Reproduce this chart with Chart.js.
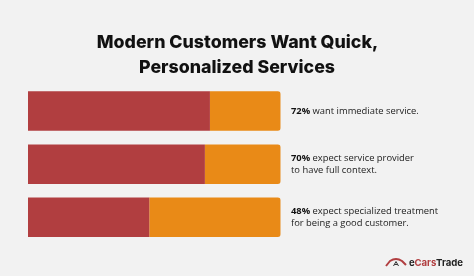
<!DOCTYPE html>
<html>
<head>
<meta charset="utf-8">
<script src="https://cdn.jsdelivr.net/npm/chart.js@4"></script>
<style>
  html,body{margin:0;padding:0;background:#f2f2f2;}
  #wrap{position:relative;width:474px;height:276px;}
  canvas{display:block;}
</style>
</head>
<body>
<div id="wrap"><canvas id="c" width="474" height="276"></canvas></div>
<script>
const titleLines = ["Modern Customers Want Quick,", "Personalized Services"];
const categories = ["want immediate service", "expect full context", "expect specialized treatment"];
const agreeValues = [72, 70, 48];
const restValues = [28, 30, 52];
const labelBold = ["72%", "70%", "48%"];
const labelLines = [
  [" want immediate service."],
  [" expect service provider", "to have full context."],
  [" expect specialized treatment", "for being a good customer."]
];
const brandParts = ["e", "Cars", "Trade"];

const RED = "#b13e40";
const ORANGE = "#e98a17";

const overlay = {
  id: "overlay",
  afterDraw(chart) {
    const ctx = chart.ctx;
    const y = chart.scales.y;
    ctx.save();
    // title
    ctx.fillStyle = "#111";
    ctx.textAlign = "center";
    ctx.textBaseline = "middle";
    ctx.font = "800 17.8px Inter";
    ctx.fillText(titleLines[0], 237.5, 43);
    ctx.fillText(titleLines[1], 237, 68);
    // right labels
    ctx.textAlign = "left";
    const x0 = 291;
    const lh = 11.7;
    categories.forEach((c, i) => {
      const cy = y.getPixelForValue(i);
      const lines = labelLines[i];
      const top = cy - (lines.length - 1) * lh / 2;
      ctx.font = "bold 9.4px 'Open Sans'";
      ctx.fillStyle = "#111";
      ctx.fillText(labelBold[i], x0, top);
      const w = ctx.measureText(labelBold[i]).width;
      ctx.font = "9.4px 'Open Sans'";
      ctx.fillStyle = "#222";
      ctx.fillText(lines[0], x0 + w, top);
      for (let k = 1; k < lines.length; k++) {
        ctx.fillText(lines[k], x0, top + k * lh);
      }
    });
    // logo
    ctx.strokeStyle = RED;
    ctx.lineWidth = 2;
    ctx.lineJoin = "round";
    ctx.beginPath();
    ctx.moveTo(386, 266);
    ctx.lineTo(390, 261);
    ctx.quadraticCurveTo(396, 257, 402, 261);
    ctx.lineTo(406, 265);
    ctx.stroke();
    ctx.lineWidth = 1;
    ctx.strokeStyle = "#333";
    ctx.beginPath();
    ctx.moveTo(393.5, 266);
    ctx.lineTo(396, 261.5);
    ctx.lineTo(398.5, 266);
    ctx.moveTo(394.5, 264.5);
    ctx.lineTo(397.5, 264.5);
    ctx.stroke();
    ctx.font = "bold 9.6px Inter";
    ctx.textBaseline = "middle";
    let bx = 409;
    const cols = ["#222", RED, "#222"];
    brandParts.forEach((p, k) => {
      ctx.fillStyle = cols[k];
      ctx.fillText(p, bx, 263);
      bx += ctx.measureText(p).width - 0.3;
    });
    ctx.restore();
  }
};

new Chart(document.getElementById("c"), {
  type: "bar",
  data: {
    labels: categories,
    datasets: [
      { data: agreeValues, backgroundColor: RED, borderWidth: 0, borderRadius: 0, borderSkipped: false,
        categoryPercentage: 1, barPercentage: 0.744 },
      { data: restValues, backgroundColor: ORANGE, borderWidth: 0,
        borderRadius: { topLeft: 0, bottomLeft: 0, topRight: 3, bottomRight: 3 }, borderSkipped: false,
        categoryPercentage: 1, barPercentage: 0.744 }
    ]
  },
  options: {
    indexAxis: "y",
    responsive: false,
    animation: false,
    layout: { padding: { left: 28, right: 193.3, top: 84.5, bottom: 32.1 } },
    scales: {
      x: { stacked: true, min: 0, max: 100, display: false },
      y: { stacked: true, display: false }
    },
    plugins: { legend: { display: false }, tooltip: { enabled: false }, title: { display: false } }
  },
  plugins: [overlay]
});
</script>
</body>
</html>
